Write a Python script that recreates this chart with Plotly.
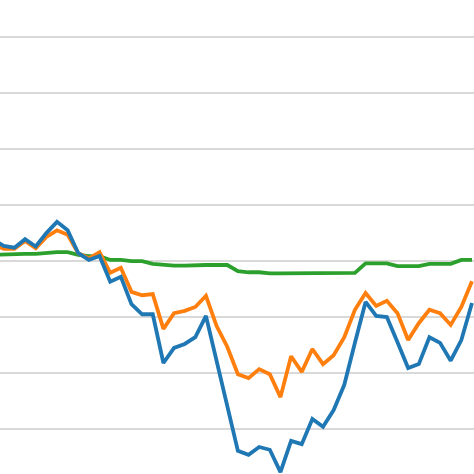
import plotly.graph_objects as go

# period index (the visible window is a crop of a longer series)
periods = list(range(46))

series_a = [103.7, 102.6, 102.3, 103.8, 102.5, 104.9, 106.9, 105.4, 101.3, 100.1,
            100.8, 96.2, 97.1, 92.2, 90.4, 90.4, 81.7, 84.4, 85.1, 86.3,
            90.1, 82.1, 74.0, 66.0, 65.3, 66.7, 66.2, 62.2, 67.8, 67.2,
            71.7, 70.3, 73.3, 77.8, 85.3, 92.6, 90.1, 89.9, 85.4, 80.8,
            81.5, 86.3, 85.3, 82.1, 85.8, 92.4]

series_b = [102.8, 102.1, 102.1, 103.5, 102.2, 104.2, 105.4, 104.6, 101.3, 100.4,
            101.5, 97.8, 98.7, 94.4, 93.8, 94.0, 87.8, 90.6, 91.0, 91.7,
            93.7, 88.3, 84.6, 79.7, 79.0, 80.6, 79.7, 75.6, 82.9, 80.1,
            84.2, 81.5, 83.1, 86.3, 91.2, 94.2, 91.9, 92.8, 90.6, 85.8,
            88.8, 91.2, 90.6, 88.5, 91.7, 96.3]

series_c = [101.0, 101.1, 101.2, 101.2, 101.2, 101.4, 101.5, 101.5, 101.0, 100.8,
            100.8, 100.1, 100.1, 99.9, 99.9, 99.4, 99.2, 99.1, 99.1, 99.2,
            99.2, 99.2, 99.2, 98.1, 97.9, 97.9, 97.7, 97.7, 97.7, 97.8,
            97.8, 97.8, 97.8, 97.8, 97.8, 99.5, 99.5, 99.5, 99.0, 99.0,
            99.0, 99.4, 99.4, 99.4, 100.1, 100.1]

fig = go.Figure()
fig.add_trace(go.Scatter(x=periods, y=series_c, mode="lines",
                         line=dict(color="#2ca02c", width=3.8), showlegend=False))
fig.add_trace(go.Scatter(x=periods, y=series_b, mode="lines",
                         line=dict(color="#ff7f0e", width=3.8), showlegend=False))
fig.add_trace(go.Scatter(x=periods, y=series_a, mode="lines",
                         line=dict(color="#1f77b4", width=3.8), showlegend=False))

fig.update_layout(
    width=474, height=474,
    margin=dict(l=0, r=0, t=0, b=0),
    paper_bgcolor="white", plot_bgcolor="white",
    xaxis=dict(range=[0.643, 45.19], showgrid=False, zeroline=False,
               showticklabels=False, ticks="", showline=False),
    yaxis=dict(range=[61.875, 146.52], tick0=0, dtick=10, showgrid=True,
               gridcolor="#d9d9d9", gridwidth=2, zeroline=False,
               showticklabels=False, ticks="", showline=False),
)

fig.write_html(
    "out.html",
    config={"displayModeBar": False},
    post_script="document.body.style.margin='0';document.body.style.overflow='hidden';",
)
